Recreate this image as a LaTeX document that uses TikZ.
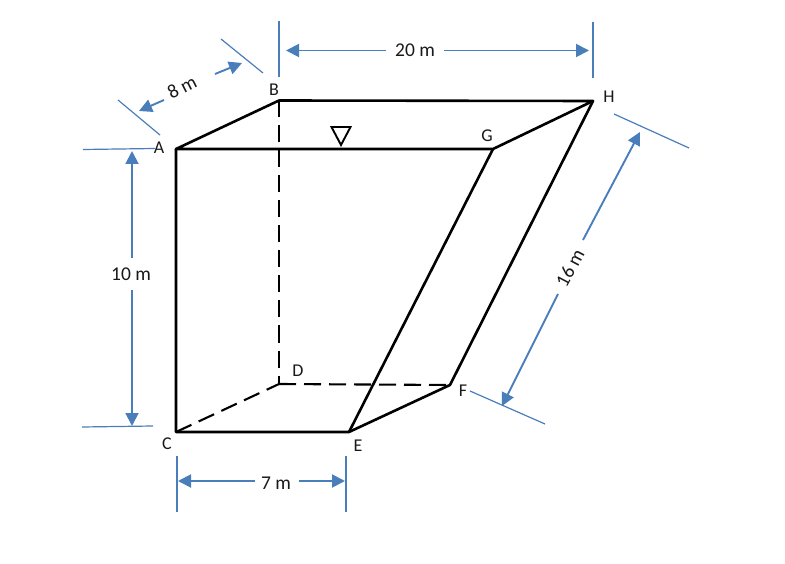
\documentclass[tikz,border=0pt]{standalone}
\usepackage{fontspec}
\setmainfont{Carlito}
\usetikzlibrary{arrows.meta}
\definecolor{dimblue}{RGB}{74,126,187}
\tikzset{
  edge/.style={line width=2.6pt,black,line cap=round,line join=round},
  hidden/.style={line width=2.1pt,black,dash pattern=on 17pt off 8pt},
  ext/.style={line width=1.2pt,dimblue},
  dimarrow/.style={line width=1.9pt,dimblue,-{Triangle[length=13pt,width=13pt]}},
  lab/.style={inner sep=0pt,font=\fontsize{18}{20}\selectfont,text=black!90},
  dimlab/.style={inner sep=0pt,font=\fontsize{19.5}{22}\selectfont,text=black!90}
}
\begin{document}
\begin{tikzpicture}[x=1pt,y=-1pt]
\useasboundingbox (0,0) rectangle (785,564);
% vertices
\coordinate (A) at (176,149);
\coordinate (B) at (279,100.5);
\coordinate (C) at (176,432);
\coordinate (D) at (279,384);
\coordinate (E) at (349,432);
\coordinate (F) at (450,385);
\coordinate (G) at (493,149);
\coordinate (H) at (593,101);
% extension-line ends
\coordinate (a1) at (83,149.5); \coordinate (a2) at (155,148.5);
\coordinate (c1) at (82,427); \coordinate (c2) at (153,426);
\coordinate (at1) at (118,100); \coordinate (at2) at (160,135);
\coordinate (bt1) at (221,39); \coordinate (bt2) at (263,73);
\coordinate (bv1) at (279,21); \coordinate (bv2) at (279,77);
\coordinate (hv1) at (593,22); \coordinate (hv2) at (593,78);
\coordinate (ht1) at (614,114); \coordinate (ht2) at (689,148);
\coordinate (ft1) at (470,391); \coordinate (ft2) at (545,424);
\coordinate (cv1) at (177,456); \coordinate (cv2) at (177,512);
\coordinate (ev1) at (346,456); \coordinate (ev2) at (346,512);
% arrow ends
\coordinate (t20l) at (386,50.5); \coordinate (h20l) at (286,50.5);
\coordinate (t20r) at (444,50.5); \coordinate (h20r) at (589,50.5);
\coordinate (t10u) at (132,258); \coordinate (h10u) at (132,151);
\coordinate (t10d) at (132,290); \coordinate (h10d) at (132,426);
\coordinate (t8l) at (164,100); \coordinate (h8l) at (139,111);
\coordinate (t8r) at (215,74); \coordinate (h8r) at (242,63);
\coordinate (t16u) at (583,240); \coordinate (h16u) at (640,132);
\coordinate (t16d) at (558,294); \coordinate (h16d) at (502,406);
\coordinate (t7l) at (255,481); \coordinate (h7l) at (178,481);
\coordinate (t7r) at (299,481); \coordinate (h7r) at (345,481);
% labels
\node[lab] (lA) at (159,148) {A};
\node[lab] (lB) at (274,90) {B};
\node[lab] (lC) at (167,444) {C};
\node[lab] (lD) at (298,371) {D};
\node[lab] (lE) at (358,446) {E};
\node[lab] (lF) at (463,391) {F};
\node[lab] (lG) at (487,136) {G};
\node[lab] (lH) at (609,97) {H};
\node[dimlab] (l20) at (415,50) {20 m};
\node[dimlab] (l10) at (131,274) {10 m};
\node[dimlab] (l7) at (276,483) {7 m};
\node[dimlab,rotate=27] (l8) at (182,87) {8 m};
\node[dimlab,rotate=62] (l16) at (570,268) {16 m};
% extension lines
\draw[ext] (a1) -- (a2);
\draw[ext] (c1) -- (c2);
\draw[ext] (at1) -- (at2);
\draw[ext] (bt1) -- (bt2);
\draw[ext] (bv1) -- (bv2);
\draw[ext] (hv1) -- (hv2);
\draw[ext] (ht1) -- (ht2);
\draw[ext] (ft1) -- (ft2);
\draw[ext] (cv1) -- (cv2);
\draw[ext] (ev1) -- (ev2);
% dimension arrows
\draw[dimarrow] (t20l) -- (h20l);
\draw[dimarrow] (t20r) -- (h20r);
\draw[dimarrow] (t10u) -- (h10u);
\draw[dimarrow] (t10d) -- (h10d);
\draw[dimarrow] (t8l) -- (h8l);
\draw[dimarrow] (t8r) -- (h8r);
\draw[dimarrow] (t16u) -- (h16u);
\draw[dimarrow] (t16d) -- (h16d);
\draw[dimarrow] (t7l) -- (h7l);
\draw[dimarrow] (t7r) -- (h7r);
% solid and hidden edges
\draw[hidden] (B) -- (D);
\draw[hidden] (C) -- (D);
\draw[hidden] (D) -- (F);
\draw[edge] (A) -- (B) -- (H) -- (G) -- cycle;
\draw[edge] (A) -- (C) -- (E) -- (F) -- (H);
\draw[edge] (E) -- (G);
% water surface symbol
\coordinate (w1) at (331.5,127);
\coordinate (w2) at (350.5,127);
\coordinate (w3) at (341,145);
\draw[line width=1.9pt,black] (w1) -- (w2) -- (w3) -- cycle;
\end{tikzpicture}
\end{document}
